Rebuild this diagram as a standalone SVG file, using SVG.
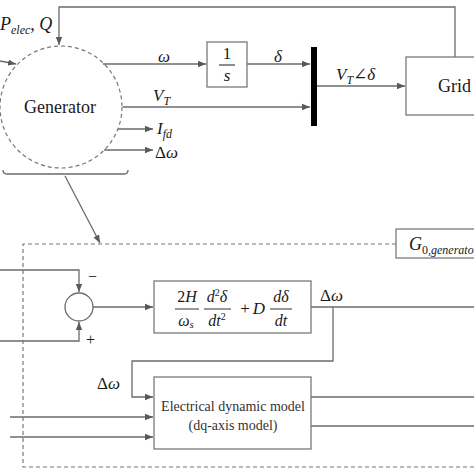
<svg xmlns="http://www.w3.org/2000/svg" width="474" height="474" viewBox="0 0 474 474">
<style>
.ln{fill:none;stroke:#6b6b6b;stroke-width:1.3}
.bx{fill:#fff;stroke:#7a7a7a;stroke-width:1.3}
.dash{fill:none;stroke:#777;stroke-width:1.2;stroke-dasharray:4 3}
.m{font-family:"Liberation Serif","DejaVu Serif",serif;font-style:italic;fill:#1a1a1a}
.r{font-family:"Liberation Serif","DejaVu Serif",serif;fill:#1a1a1a}
.s{font-family:"Liberation Serif","DejaVu Serif",serif;fill:#333}
</style>
<defs>
<marker id="a" viewBox="0 0 10 10" refX="10" refY="5" markerWidth="8" markerHeight="8" markerUnits="userSpaceOnUse" orient="auto">
<path d="M0,1 L10,5 L0,9 z" fill="#5a5a5a"/>
</marker>
</defs>
<rect width="474" height="474" fill="#fff"/>

<g id="connectors">
<path class="ln" d="M455,57 V7 H59 V45" marker-end="url(#a)"/>
<path class="ln" d="M0,61 L16,64" marker-end="url(#a)"/>
<path class="ln" d="M103,64 H206" marker-end="url(#a)"/>
<path class="ln" d="M247,64 H310" marker-end="url(#a)"/>
<path class="ln" d="M123,107 H310" marker-end="url(#a)"/>
<path class="ln" d="M317,86 H405" marker-end="url(#a)"/>
<path class="ln" d="M118,129 H153" marker-end="url(#a)"/>
<path class="ln" d="M104,150 H153" marker-end="url(#a)"/>
<path class="ln" d="M3,170 Q3,174 7,174 H124 Q128,174 128,170"/>
<path class="ln" d="M65,176 L100,243" marker-end="url(#a)"/>
<path class="ln" d="M0,270 H79 V292" marker-end="url(#a)"/>
<path class="ln" d="M0,341 H79 V322" marker-end="url(#a)"/>
<path class="ln" d="M93,307 H153" marker-end="url(#a)"/>
<path class="ln" d="M311,307 H474"/>
<path class="ln" d="M333,307 V361 H132 V397 H153" marker-end="url(#a)"/>
<path class="ln" d="M10,417 H153" marker-end="url(#a)"/>
<path class="ln" d="M10,437 H153" marker-end="url(#a)"/>
<path class="ln" d="M311,397 H474"/>
<path class="ln" d="M311,426 H474"/>
</g>

<g id="boundary">
<path class="dash" d="M396,244 H23 V467 H474"/>
</g>

<g id="generator">
<circle class="dash" cx="61" cy="107" r="61" stroke="#777"/>
<text class="r" x="60" y="113" font-size="18" text-anchor="middle">Generator</text>
</g>

<g id="inputs-label">
<text class="m" x="0" y="30" font-size="18">P<tspan font-size="12" dy="4">elec</tspan><tspan dy="-4" font-style="normal">,</tspan> Q</text>
</g>

<g id="integrator">
<rect class="bx" x="207" y="42" width="40" height="45"/>
<text class="r" x="227" y="59" font-size="17" text-anchor="middle">1</text>
<line x1="219" y1="65" x2="235" y2="65" stroke="#1a1a1a" stroke-width="1"/>
<text class="m" x="227" y="81" font-size="17" text-anchor="middle">s</text>
</g>

<g id="bus">
<rect x="311" y="47" width="6" height="79" fill="#000"/>
</g>

<g id="grid">
<rect class="bx" x="406" y="57" width="80" height="58"/>
<text class="r" x="438" y="92" font-size="18">Grid</text>
</g>

<g id="labels">
<text class="m" x="158" y="62" font-size="17">ω</text>
<text class="m" x="274" y="62" font-size="17">δ</text>
<text class="m" x="153" y="101" font-size="17">V<tspan font-size="12" dy="4">T</tspan></text>
<text class="m" x="336" y="80" font-size="17">V<tspan font-size="12" dy="4">T</tspan><tspan dy="-4" font-style="normal">∠</tspan>δ</text>
<text class="m" x="157" y="134" font-size="17">I<tspan font-size="12" dy="4">fd</tspan></text>
<text class="m" x="155" y="158" font-size="17"><tspan font-style="normal">Δ</tspan>ω</text>
<text class="r" x="88" y="282" font-size="16">−</text>
<text class="r" x="86" y="345" font-size="16">+</text>
<text class="m" x="97" y="389" font-size="17"><tspan font-style="normal">Δ</tspan>ω</text>
<text class="m" x="320" y="301" font-size="17"><tspan font-style="normal">Δ</tspan>ω</text>
</g>

<g id="g0">
<rect class="bx" x="396" y="229" width="90" height="29"/>
<text class="m" x="409" y="250" font-size="18">G<tspan font-size="12" dy="4" font-style="normal">0,</tspan><tspan font-size="12">generator</tspan></text>
</g>

<g id="sum">
<circle cx="79" cy="307" r="14" fill="#fff" stroke="#6b6b6b" stroke-width="1.3"/>
</g>

<g id="swing">
<rect class="bx" x="154" y="281" width="157" height="52"/>
<text class="r" x="187" y="302" font-size="16" text-anchor="middle">2<tspan font-style="italic">H</tspan></text>
<line x1="175" y1="309" x2="199" y2="309" stroke="#1a1a1a" stroke-width="0.9"/>
<text class="m" x="186" y="326" font-size="16" text-anchor="middle">ω<tspan font-size="11" dy="2">s</tspan></text>
<text class="m" x="217" y="302" font-size="16" text-anchor="middle">d<tspan font-size="10" dy="-6" font-style="normal">2</tspan><tspan dy="6">δ</tspan></text>
<line x1="204" y1="309" x2="231" y2="309" stroke="#1a1a1a" stroke-width="0.9"/>
<text class="m" x="217" y="326" font-size="16" text-anchor="middle">dt<tspan font-size="10" dy="-6" font-style="normal">2</tspan></text>
<text class="r" x="245" y="314" font-size="17" text-anchor="middle">+</text>
<text class="m" x="259" y="314" font-size="17" text-anchor="middle">D</text>
<text class="m" x="281" y="302" font-size="16" text-anchor="middle">dδ</text>
<line x1="270" y1="309" x2="292" y2="309" stroke="#1a1a1a" stroke-width="0.9"/>
<text class="m" x="281" y="326" font-size="16" text-anchor="middle">dt</text>
</g>

<g id="electrical">
<rect class="bx" x="154" y="377" width="157" height="72"/>
<text class="s" x="233" y="411" font-size="14" text-anchor="middle">Electrical dynamic model</text>
<text class="s" x="233" y="430" font-size="14" text-anchor="middle">(dq-axis model)</text>
</g>
</svg>
